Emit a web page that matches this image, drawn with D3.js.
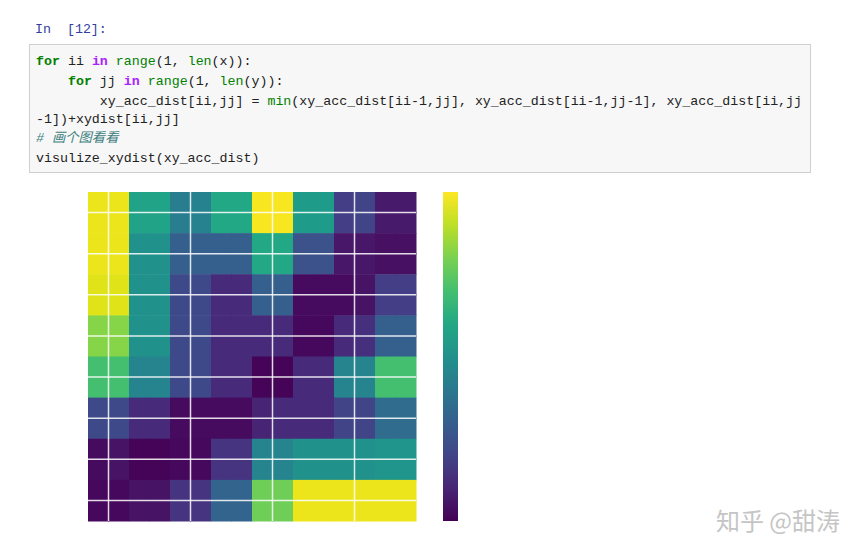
<!DOCTYPE html>
<html>
<head>
<meta charset="utf-8">
<script src="https://cdn.jsdelivr.net/npm/d3@7"></script>
<style>
  body { margin: 0; background: #fff; }
</style>
</head>
<body>
<svg id="chart" width="862" height="557"></svg>
<script>
// accumulated distance matrix, normalised 0..1 (rows top to bottom)
const accDist = [
  [0.97, 0.97, 0.58, 0.58, 0.42, 0.44, 0.60, 0.60, 0.99, 0.99, 0.55, 0.55, 0.18, 0.20, 0.07, 0.07],
  [0.97, 0.97, 0.58, 0.58, 0.42, 0.44, 0.60, 0.60, 0.99, 0.99, 0.55, 0.55, 0.18, 0.20, 0.07, 0.07],
  [0.97, 0.97, 0.50, 0.50, 0.30, 0.30, 0.30, 0.30, 0.60, 0.60, 0.25, 0.25, 0.06, 0.06, 0.04, 0.04],
  [0.97, 0.97, 0.50, 0.50, 0.30, 0.30, 0.30, 0.30, 0.60, 0.60, 0.25, 0.25, 0.06, 0.06, 0.04, 0.04],
  [0.95, 0.95, 0.50, 0.50, 0.22, 0.22, 0.12, 0.12, 0.30, 0.30, 0.03, 0.03, 0.03, 0.05, 0.18, 0.18],
  [0.95, 0.95, 0.50, 0.50, 0.22, 0.22, 0.12, 0.12, 0.30, 0.30, 0.03, 0.03, 0.03, 0.05, 0.18, 0.18],
  [0.82, 0.82, 0.50, 0.50, 0.22, 0.22, 0.12, 0.12, 0.12, 0.12, 0.02, 0.02, 0.12, 0.14, 0.30, 0.30],
  [0.82, 0.82, 0.50, 0.50, 0.22, 0.22, 0.12, 0.12, 0.12, 0.12, 0.02, 0.02, 0.12, 0.14, 0.30, 0.30],
  [0.70, 0.70, 0.45, 0.45, 0.22, 0.22, 0.12, 0.12, 0.01, 0.01, 0.12, 0.12, 0.45, 0.45, 0.70, 0.70],
  [0.70, 0.70, 0.45, 0.45, 0.22, 0.22, 0.12, 0.12, 0.01, 0.01, 0.12, 0.12, 0.45, 0.45, 0.70, 0.70],
  [0.22, 0.22, 0.12, 0.12, 0.03, 0.03, 0.03, 0.03, 0.10, 0.12, 0.12, 0.12, 0.20, 0.20, 0.35, 0.35],
  [0.22, 0.22, 0.12, 0.12, 0.03, 0.03, 0.03, 0.03, 0.10, 0.12, 0.12, 0.12, 0.20, 0.20, 0.35, 0.35],
  [0.03, 0.05, 0.01, 0.01, 0.02, 0.02, 0.15, 0.15, 0.45, 0.45, 0.50, 0.50, 0.50, 0.50, 0.52, 0.52],
  [0.03, 0.05, 0.01, 0.01, 0.02, 0.02, 0.15, 0.15, 0.45, 0.45, 0.50, 0.50, 0.50, 0.50, 0.52, 0.52],
  [0.02, 0.02, 0.05, 0.05, 0.15, 0.15, 0.32, 0.32, 0.78, 0.78, 0.97, 0.97, 0.97, 0.97, 0.97, 0.97],
  [0.02, 0.02, 0.05, 0.05, 0.15, 0.15, 0.32, 0.32, 0.78, 0.78, 0.97, 0.97, 0.97, 0.97, 0.97, 0.97]
];
const xGrid = [1, 5, 9, 13];
const yGrid = [1, 3, 5, 7, 9, 11, 13, 15];

// code cell lines: [text, kind] tokens
const codeLines = [
  [["for", "kw"], [" ii ", ""], ["in", "op"], [" ", ""], ["range", "bi"], ["(1, ", ""], ["len", "bi"], ["(x)):", ""]],
  [["    ", ""], ["for", "kw"], [" jj ", ""], ["in", "op"], [" ", ""], ["range", "bi"], ["(1, ", ""], ["len", "bi"], ["(y)):", ""]],
  [["        xy_acc_dist[ii,jj] = ", ""], ["min", "bi"], ["(xy_acc_dist[ii-1,jj], xy_acc_dist[ii-1,jj-1], xy_acc_dist[ii,jj", ""]],
  [["-1])+xydist[ii,jj]", ""]],
  [["# 画个图看看", "cm"]],
  [["visulize_xydist(xy_acc_dist)", ""]]
];

const svg = d3.select("#chart");

// notebook prompt and code box
svg.append("text").attr("x", 35).attr("y", 33)
  .attr("font-family", "Liberation Mono, monospace").attr("font-size", 13.3)
  .attr("fill", "#303F9F").style("white-space", "pre").text("In  [12]:");

svg.append("rect").attr("x", 29.5).attr("y", 44.5).attr("width", 781).attr("height", 128)
  .attr("fill", "#f7f7f7").attr("stroke", "#cfcfcf");

const styles = {
  kw: { fill: "#008000", weight: "bold" },
  op: { fill: "#AA22FF", weight: "bold" },
  bi: { fill: "#008000", weight: "normal" },
  cm: { fill: "#408080", weight: "normal", italic: true },
  "": { fill: "#222", weight: "normal" }
};
const lineY = [65, 85, 105, 123, 142, 162];
codeLines.forEach((toks, i) => {
  const t = svg.append("text").attr("x", 36).attr("y", lineY[i])
    .attr("font-family", "Liberation Mono, 'Noto Sans CJK SC', monospace")
    .attr("font-size", 13.3).style("white-space", "pre");
  toks.forEach(([s, k]) => {
    const st = styles[k];
    t.append("tspan").text(s).attr("fill", st.fill)
      .attr("font-weight", st.weight)
      .attr("font-style", st.italic ? "italic" : "normal");
  });
});

// heatmap
const n = accDist.length;
const x = d3.scaleLinear().domain([0, n]).range([88, 416]);
const y = d3.scaleLinear().domain([0, n]).range([192, 521]);
const color = d3.scaleSequential(d3.interpolateViridis).domain([0, 1]);

const cells = accDist.flatMap((row, r) => row.map((v, c) => ({ r, c, v })));
svg.append("g").selectAll("rect").data(cells).enter().append("rect")
  .attr("x", d => x(d.c)).attr("y", d => y(d.r))
  .attr("width", x(1) - x(0) + 0.5).attr("height", y(1) - y(0) + 0.5)
  .attr("fill", d => color(d.v));

svg.append("g").selectAll("line").data(xGrid).enter().append("line")
  .attr("x1", d => x(d)).attr("x2", d => x(d)).attr("y1", y(0)).attr("y2", y(n))
  .attr("stroke", "#fff").attr("stroke-width", 1.5).attr("opacity", 0.85);
svg.append("g").selectAll("line").data(yGrid).enter().append("line")
  .attr("y1", d => y(d)).attr("y2", d => y(d)).attr("x1", x(0)).attr("x2", x(n))
  .attr("stroke", "#fff").attr("stroke-width", 1.5).attr("opacity", 0.85);

// colorbar
const grad = svg.append("defs").append("linearGradient").attr("id", "cbar")
  .attr("x1", 0).attr("y1", 1).attr("x2", 0).attr("y2", 0);
d3.range(0, 1.001, 0.1).forEach(t => {
  grad.append("stop").attr("offset", t).attr("stop-color", color(t));
});
svg.append("rect").attr("x", 443).attr("y", 192).attr("width", 15).attr("height", 329)
  .attr("fill", "url(#cbar)");

// watermark
svg.append("text").attr("x", 840).attr("y", 530).attr("text-anchor", "end")
  .attr("font-family", "'Noto Sans CJK SC', sans-serif").attr("font-size", 24)
  .attr("fill", "#bbb").attr("opacity", 0.85).style("white-space", "pre").text("知乎 @甜涛");
</script>
</body>
</html>
